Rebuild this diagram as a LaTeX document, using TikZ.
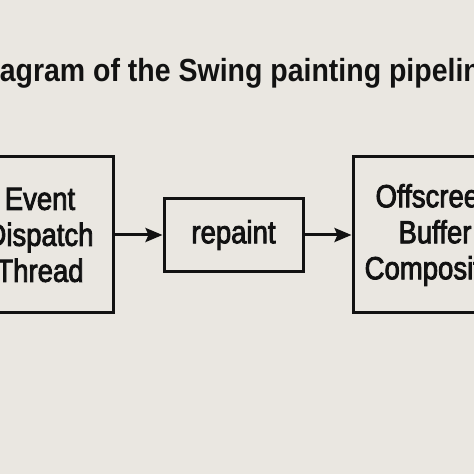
\documentclass[tikz,border=0pt]{standalone}
\usepackage{fontspec}
\setmainfont{Liberation Sans}
\newfontfamily\stagefont[FakeStretch=0.86, FakeBold=2.6]{Liberation Sans}
\newfontfamily\titlefont[FakeStretch=0.89]{Liberation Sans}
\usepackage{tikz}
\usetikzlibrary{arrows.meta}
\definecolor{PaperGray}{RGB}{234,231,225}
\definecolor{InkBlack}{RGB}{18,18,18}

\begin{document}
\begin{tikzpicture}[>={Stealth[length=17pt, width=14pt, inset=3pt]}, x=1pt, y=1pt,
    stagebox/.style={draw=InkBlack, line width=3pt, align=center, text=InkBlack,
        font=\stagefont\fontsize{32}{36}\selectfont, inner sep=0pt},
    flow/.style={->, draw=InkBlack, line width=3pt}]
        % Page and crop
        \useasboundingbox (0,0) rectangle (474,474);
        \clip (0,0) rectangle (474,474);
        \fill [PaperGray] (0,0) rectangle (474,474);
        
        % Title
        \node [anchor=base, text=InkBlack, font=\titlefont\fontsize{32}{36}\selectfont\bfseries] (title) at (234,392)
            {Diagram of the Swing painting pipeline};
        
        % Stages
        \node [stagebox, minimum width=146pt, minimum height=156pt] (edt) at (40,239)
            {Event\\Dispatch\\Thread};
        \node [stagebox, minimum width=139pt, minimum height=73pt] (repaint) at (233.5,239)
            {repaint};
        \node [stagebox, minimum width=164pt, minimum height=156pt] (buffer) at (435,239)
            {Offscreen\\Buffer\\Compositor};
        
        % Arrows between stages
        \draw [flow] (edt.east) -- (repaint.west);
        \draw [flow] (repaint.east) -- (buffer.west);
    \end{tikzpicture}
\end{document}
